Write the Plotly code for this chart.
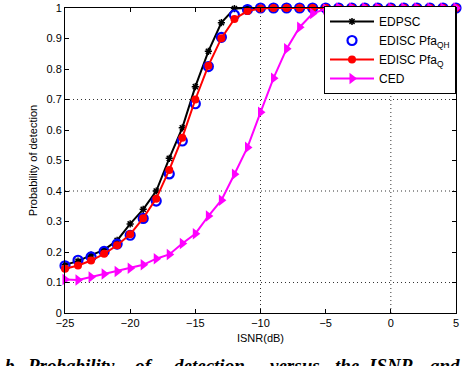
import plotly.graph_objects as go

isnr = list(range(-25, 6))

edpsc = [0.158, 0.170, 0.190, 0.207, 0.238, 0.292, 0.340, 0.400, 0.507, 0.607, 0.742, 0.858, 0.952, 0.998,
         1, 1, 1, 1, 1, 1, 1, 1, 1, 1, 1, 1, 1, 1, 1, 1, 1]
edisc_qh = [0.155, 0.173, 0.184, 0.202, 0.226, 0.255, 0.310, 0.367, 0.456, 0.564, 0.686, 0.808, 0.904, 0.977,
            0.995, 1, 1, 1, 1, 1, 1, 1, 1, 1, 1, 1, 1, 1, 1, 1, 1]
edisc_q = [0.145, 0.156, 0.172, 0.194, 0.222, 0.258, 0.311, 0.375, 0.469, 0.575, 0.700, 0.811, 0.901, 0.964,
           0.990, 0.998, 1, 1, 1, 1, 1, 1, 1, 1, 1, 1, 1, 1, 1, 1, 1]
ced = [0.110, 0.108, 0.118, 0.128, 0.136, 0.147, 0.158, 0.178, 0.192, 0.228, 0.260, 0.318, 0.370, 0.455,
       0.543, 0.658, 0.770, 0.866, 0.937, 0.982, 0.997, 1, 1, 1, 1, 1, 1, 1, 1, 1, 1]

x_ticks = [-25, -20, -15, -10, -5, 0, 5]
y_ticks = [0, 0.1, 0.2, 0.3, 0.4, 0.5, 0.6, 0.7, 0.8, 0.9, 1]
grid_x = [-10, 0]
grid_y = [0.1, 0.4, 0.7]

caption_words = ["b", "Probability", "of", "detection", "versus", "the", "ISNR", "and"]
caption_x = [3, 25, 133, 172, 268, 333, 366, 428]

fig = go.Figure()
fig.add_trace(go.Scatter(x=isnr, y=edpsc, name="EDPSC", mode="lines+markers",
                         line=dict(color="black", width=2),
                         marker=dict(symbol="asterisk-open", size=6, color="black",
                                     line=dict(color="black", width=1.5)),
                         cliponaxis=False))
fig.add_trace(go.Scatter(x=isnr, y=edisc_qh, name="EDISC Pfa<sub>QH</sub>", mode="markers",
                         marker=dict(symbol="circle-open", size=9, color="#0000ff",
                                     line=dict(color="#0000ff", width=2.2)),
                         cliponaxis=False))
fig.add_trace(go.Scatter(x=isnr, y=edisc_q, name="EDISC Pfa<sub>Q</sub>", mode="lines+markers",
                         line=dict(color="#ff0000", width=2),
                         marker=dict(symbol="circle", size=8, color="#ff0000"),
                         cliponaxis=False))
fig.add_trace(go.Scatter(x=isnr, y=ced, name="CED", mode="lines+markers",
                         line=dict(color="#ff00ff", width=2),
                         marker=dict(symbol="triangle-right", size=10, color="#ff00ff"),
                         cliponaxis=False))

for gx in grid_x:
    fig.add_shape(type="line", x0=gx, x1=gx, y0=0, y1=1, xref="x", yref="y",
                  line=dict(color="#333", width=1, dash="1px,3px"), layer="below")
for gy in grid_y:
    fig.add_shape(type="line", x0=-25, x1=5, y0=gy, y1=gy, xref="x", yref="y",
                  line=dict(color="#333", width=1, dash="1px,3px"), layer="below")

W, H = 474, 366
L, R, T, B = 65, 18, 6, 53
pw, ph = W - L - R, H - T - B
for word, px in zip(caption_words, caption_x):
    fig.add_annotation(text="<b><i>" + word + "</i></b>", xref="paper", yref="paper",
                       x=(px - L) / pw, y=(H - B - 366) / ph, xanchor="left", yanchor="middle",
                       showarrow=False, font=dict(family="Liberation Serif", size=19, color="black"))

axis_common = dict(showline=True, linecolor="black", linewidth=1, mirror="allticks",
                   ticks="inside", ticklen=4, tickcolor="black", showgrid=False, zeroline=False,
                   automargin=False,
                   tickfont=dict(family="Liberation Sans", size=11, color="black"))
fig.update_xaxes(range=[-25, 5], tickvals=x_ticks,
                 title=dict(text="ISNR(dB)", font=dict(family="Liberation Sans", size=11, color="black"),
                            standoff=6), **axis_common)
fig.update_yaxes(range=[0, 1], tickvals=y_ticks,
                 title=dict(text="Probability of detection",
                            font=dict(family="Liberation Sans", size=11, color="black"), standoff=6),
                 **axis_common)

fig.update_layout(width=W, height=H, margin=dict(l=L, r=R, t=T, b=B),
                  plot_bgcolor="white", paper_bgcolor="white",
                  legend=dict(x=1, y=(H - B - 4) / ph, xanchor="right", yanchor="top",
                              bgcolor="white", bordercolor="black", borderwidth=1,
                              font=dict(family="Liberation Sans", size=12, color="black"),
                              itemwidth=44, tracegroupgap=0),
                  showlegend=True)

fig.write_html("out.html", config={"displayModeBar": False},
               post_script="document.body.style.margin='0';")
